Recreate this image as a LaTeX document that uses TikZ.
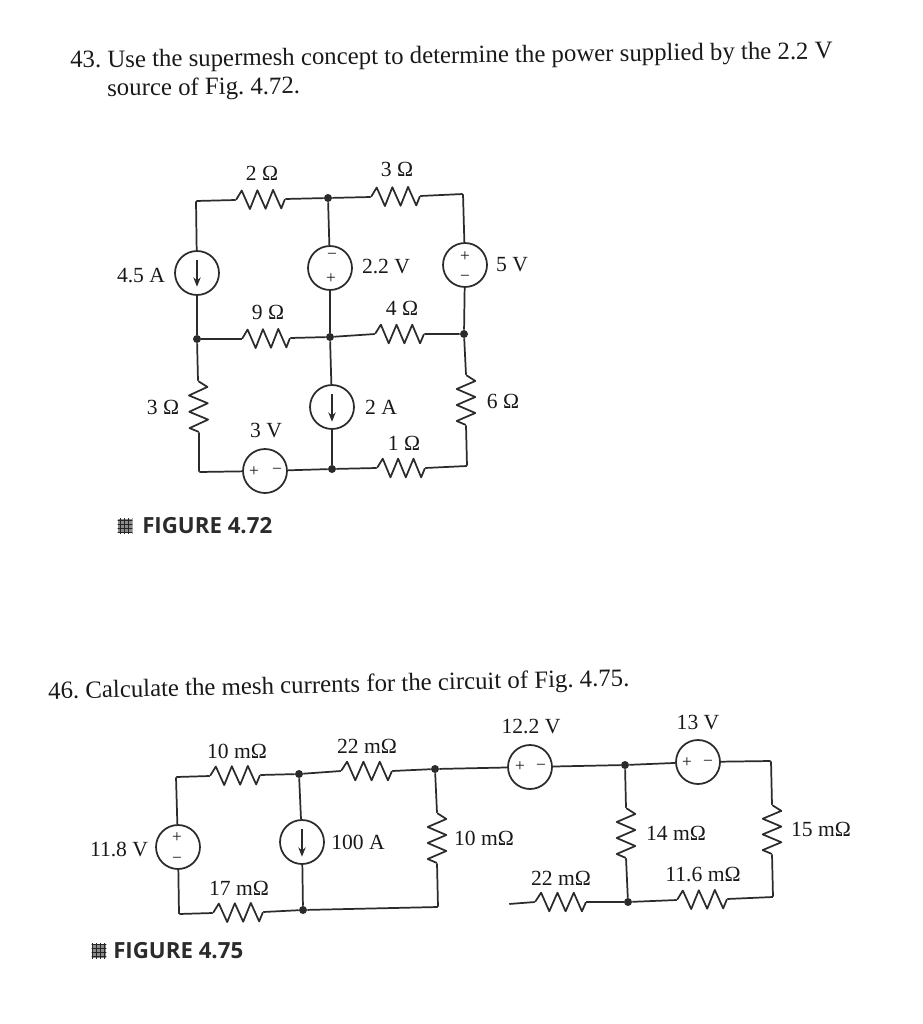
\documentclass[tikz,border=0pt]{standalone}
\usepackage{fontspec}
\setmainfont{Liberation Serif}
\newfontfamily\capfont{Open Sans}
\usetikzlibrary{calc,patterns,arrows.meta}
\definecolor{ink}{gray}{0.17}
\definecolor{txt}{gray}{0.1}
\def\ra{7pt}
\def\zz#1#2{-- ($(\tikztostart)!#1!(\tikztotarget)!\ra!#2:(\tikztotarget)$)}
\tikzset{
  wire/.style={draw=ink,line width=1.3pt,line join=round},
  res/.style={wire,to path={\zz{0.12}{90} \zz{0.28}{-90} \zz{0.44}{90} \zz{0.6}{-90} \zz{0.76}{90} \zz{0.92}{-90} -- (\tikztotarget)}},
  dot/.style={circle,fill=ink,draw=none,inner sep=0pt,minimum size=6pt},
  pt/.style={inner sep=0pt,minimum size=0pt},
  src/.style={circle,draw=ink,line width=1.3pt,fill=white,inner sep=0pt,minimum size=33pt},
  lab/.style={text=txt,inner sep=0pt,font=\fontsize{16.2}{18}\selectfont},
  body/.style={text=txt,inner sep=0pt,font=\frenchspacing\fontsize{18.6}{20}\selectfont,anchor=west},
  sgn/.style={text=txt,inner sep=0pt,font=\fontsize{13}{14}\selectfont},
  figcap/.style={text=ink,inner sep=0pt,anchor=west,font=\capfont\bfseries\fontsize{16.7}{18}\selectfont},
  arr/.style={draw=ink,line width=1.1pt,-{Stealth[length=7pt,width=5.5pt]}},
  icon/.style={preaction={fill=black!45},pattern=grid,pattern color=black!85,minimum size=11pt,inner sep=0pt}
}
\begin{document}
\begin{tikzpicture}[x=.75pt,y=-.75pt]
\useasboundingbox (0,0) rectangle (923,1024);
% text
\node[body,rotate=0.7] (t43a) at (70,62) {43. Use the supermesh concept to determine the power supplied by the 2.2 V};
\node[body,rotate=0.7] (t43b) at (107,90) {source of Fig. 4.72.};
\node[body,rotate=1.3] (t46) at (48,693) {46. Calculate the mesh currents for the circuit of Fig. 4.75.};
% ---------- Figure 4.72
\node[pt] (aTL) at (196,201) {};
\node[pt] (aR2a) at (236,200) {};
\node[pt] (aR2b) at (285,199) {};
\node[dot] (aTM) at (328,198) {};
\node[pt] (aR3a) at (371,197) {};
\node[pt] (aR3b) at (420,196) {};
\node[pt] (aTR) at (463,194) {};
\node[src] (aS5) at (465,265) {};
\node[src] (aS22) at (330,268) {};
\node[src] (aI45) at (197,273) {};
\node[dot] (aML) at (197,339) {};
\node[pt] (aR9a) at (242,339) {};
\node[pt] (aR9b) at (290,338) {};
\node[dot] (aMM) at (330,337) {};
\node[pt] (aR4a) at (375,334) {};
\node[pt] (aR4b) at (424,334) {};
\node[dot] (aMR) at (464,334) {};
\node[pt] (aR6a) at (466,375) {};
\node[pt] (aR6b) at (466,425) {};
\node[pt] (aBR) at (467,466) {};
\node[pt] (aR1a) at (425,468) {};
\node[pt] (aR1b) at (377,468) {};
\node[dot] (aBM) at (332,469) {};
\node[src] (aI2) at (332,407) {};
\node[src] (aS3) at (265,471) {};
\node[pt] (aBL) at (199,472) {};
\node[pt] (aR3Lb) at (199,432) {};
\node[pt] (aR3La) at (198,381) {};
\draw[wire] (aR2a) -- (aTL) -- (aI45);
\draw[res] (aR2a) to (aR2b);
\draw[wire] (aR2b) -- (aTM) -- (aR3a);
\draw[res] (aR3a) to (aR3b);
\draw[wire] (aR3b) -- (aTR) -- (aS5);
\draw[wire] (aTM) -- (aS22);
\draw[wire] (aS22) -- (aMM);
\draw[wire] (aS5) -- (aMR);
\draw[wire] (aI45) -- (aML);
\draw[wire] (aML) -- (aR9a);
\draw[res] (aR9a) to (aR9b);
\draw[wire] (aR9b) -- (aMM) -- (aR4a);
\draw[res] (aR4a) to (aR4b);
\draw[wire] (aR4b) -- (aMR) -- (aR6a);
\draw[res] (aR6a) to (aR6b);
\draw[wire] (aR6b) -- (aBR) -- (aR1a);
\draw[res] (aR1b) to (aR1a);
\draw[wire] (aR1b) -- (aBM) -- (aS3);
\draw[wire] (aS3) -- (aBL) -- (aR3Lb);
\draw[res] (aR3La) to (aR3Lb);
\draw[wire] (aR3La) -- (aML);
\draw[wire] (aMM) -- (aI2);
\draw[wire] (aI2) -- (aBM);
\node[pt] (aA1s) at (197,260) {}; \node[pt] (aA1e) at (197,287) {};
\draw[arr] (aA1s) -- (aA1e);
\node[pt] (aA2s) at (332,394) {}; \node[pt] (aA2e) at (332,422) {};
\draw[arr] (aA2s) -- (aA2e);
\node[sgn] (aS5p) at (465,257) {+};
\node[sgn] (aS5m) at (465,278) {\textminus};
\node[sgn] (aS22m) at (332,256) {\textminus};
\node[sgn] (aS22p) at (331,279) {+};
\node[sgn] (aS3p) at (254,472) {+};
\node[sgn] (aS3m) at (277,471) {\textminus};
\node[lab] (l1) at (262,173) {2 Ω};
\node[lab] (l2) at (397,169) {3 Ω};
\node[lab] (l3) at (386,267) {2.2 V};
\node[lab] (l4) at (512,265) {5 V};
\node[lab] (l5) at (141,276) {4.5 A};
\node[lab] (l6) at (268,312) {9 Ω};
\node[lab] (l7) at (402,308) {4 Ω};
\node[lab] (l8) at (163,407) {3 Ω};
\node[lab] (l9) at (381,407) {2 A};
\node[lab] (l10) at (503,401) {6 Ω};
\node[lab] (l11) at (266,431) {3 V};
\node[lab] (l12) at (404,443) {1 Ω};
\node[icon] (ic1) at (125,526) {};
\node[figcap] (c1) at (142,526) {FIGURE 4.72};
% ---------- Figure 4.75
\node[pt] (bTL) at (176,777) {};
\node[pt] (bR10a) at (210,776) {};
\node[pt] (bR10b) at (260,775) {};
\node[dot] (bN1) at (299,774) {};
\node[pt] (bR22a) at (341,771) {};
\node[pt] (bR22b) at (392,771) {};
\node[dot] (bN2) at (435,769) {};
\node[src] (bS118) at (178,847) {};
\node[src] (bI100) at (302,842) {};
\node[pt] (bRVa) at (437,813) {};
\node[pt] (bRVb) at (437,863) {};
\node[pt] (bBR) at (438,907) {};
\node[dot] (bN3) at (303,910) {};
\node[pt] (bR17a) at (213,913) {};
\node[pt] (bR17b) at (263,912) {};
\node[pt] (bBL) at (179,914) {};
\node[src] (bS122) at (530,767) {};
\node[dot] (bN4) at (625,765) {};
\node[src] (bS13) at (698,762) {};
\node[pt] (bC1) at (771,761) {};
\node[pt] (bR15a) at (772,805) {};
\node[pt] (bR15b) at (772,854) {};
\node[pt] (bC2) at (773,897) {};
\node[pt] (bR116a) at (677,900) {};
\node[pt] (bR116b) at (727,899) {};
\node[dot] (bN5) at (628,902) {};
\node[pt] (bR22La) at (535,902) {};
\node[pt] (bR22Lb) at (586,902) {};
\node[pt] (bFree) at (509,904) {};
\node[pt] (bR14a) at (626,808) {};
\node[pt] (bR14b) at (626,858) {};
\draw[wire] (bS118) -- (bTL) -- (bR10a);
\draw[res] (bR10a) to (bR10b);
\draw[wire] (bR10b) -- (bN1) -- (bR22a);
\draw[res] (bR22a) to (bR22b);
\draw[wire] (bR22b) -- (bN2) -- (bS122);
\draw[wire] (bS122) -- (bN4) -- (bS13);
\draw[wire] (bS13) -- (bC1) -- (bR15a);
\draw[res] (bR15a) to (bR15b);
\draw[wire] (bR15b) -- (bC2) -- (bR116b);
\draw[res] (bR116a) to (bR116b);
\draw[wire] (bR116a) -- (bN5);
\draw[wire] (bN5) -- (bR22Lb);
\draw[res] (bR22La) to (bR22Lb);
\draw[wire] (bR22La) -- (bFree);
\draw[wire] (bN4) -- (bR14a);
\draw[res] (bR14a) to (bR14b);
\draw[wire] (bR14b) -- (bN5);
\draw[wire] (bN1) -- (bI100);
\draw[wire] (bI100) -- (bN3);
\draw[wire] (bN2) -- (bRVa);
\draw[res] (bRVa) to (bRVb);
\draw[wire] (bRVb) -- (bBR) -- (bN3);
\draw[wire] (bN3) -- (bR17b);
\draw[res] (bR17a) to (bR17b);
\draw[wire] (bR17a) -- (bBL) -- (bS118);
\node[pt] (bA1s) at (302,829) {}; \node[pt] (bA1e) at (302,857) {};
\draw[arr] (bA1s) -- (bA1e);
\node[sgn] (bS118p) at (177,838) {+};
\node[sgn] (bS118m) at (177,860) {\textminus};
\node[sgn] (bS122p) at (520,767) {+};
\node[sgn] (bS122m) at (541,767) {\textminus};
\node[sgn] (bS13p) at (687,763) {+};
\node[sgn] (bS13m) at (708,763) {\textminus};
\node[lab] (m1) at (237,751) {10 mΩ};
\node[lab] (m2) at (367,746) {22 mΩ};
\node[lab] (m3) at (119,849) {11.8 V};
\node[lab] (m4) at (358,842) {100 A};
\node[lab] (m5) at (239,888) {17 mΩ};
\node[lab] (m6) at (531,727) {12.2 V};
\node[lab] (m7) at (698,723) {13 V};
\node[lab] (m8) at (484,838) {10 mΩ};
\node[lab] (m9) at (676,833) {14 mΩ};
\node[lab] (m10) at (821,829) {15 mΩ};
\node[lab] (m11) at (561,878) {22 mΩ};
\node[lab] (m12) at (703,874) {11.6 mΩ};
\node[icon] (ic2) at (99,951) {};
\node[figcap] (c2) at (113,951) {FIGURE 4.75};
\end{tikzpicture}
\end{document}
